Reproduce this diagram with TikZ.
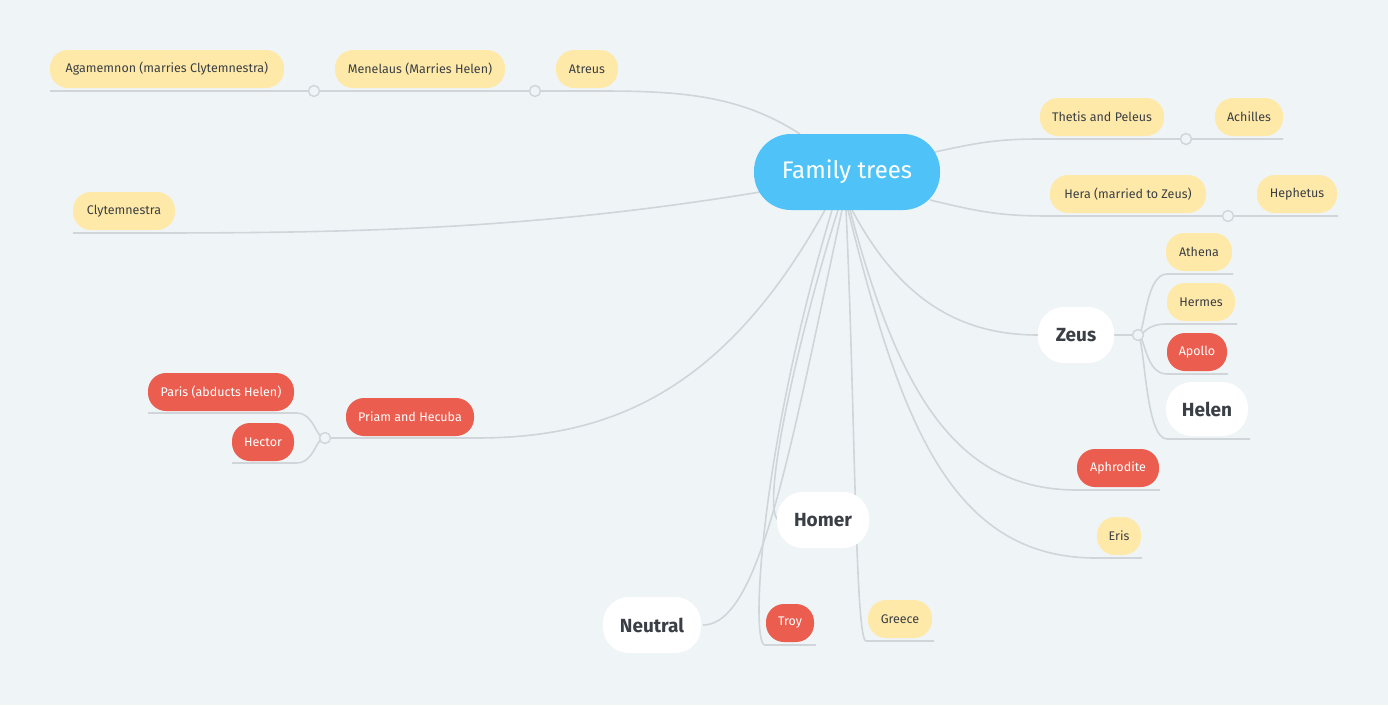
\documentclass[tikz,border=0pt]{standalone}
\usepackage{fontspec}
\setmainfont{Fira Sans}
\begin{document}
\begin{tikzpicture}[x=1pt,y=-1pt,
  ln/.style={draw=lineC,line width=1.6pt},
  yel/.style={fill=yelC,rounded corners=18pt,minimum height=38pt,font=\fontsize{12.5}{15}\selectfont,text=txtC,inner sep=0pt},
  red/.style={fill=redC,rounded corners=18pt,minimum height=38pt,font=\fontsize{12.5}{15}\selectfont,text=white,inner sep=0pt},
  wht/.style={fill=white,rounded corners=26pt,minimum height=56pt,font=\fontsize{19}{21}\selectfont\bfseries,text=txtC,inner sep=0pt},
  knot/.style={circle,draw=lineC,fill=bgC,line width=1.4pt,inner sep=0pt,minimum size=11pt}]
\definecolor{bgC}{HTML}{EFF4F7}
\definecolor{lineC}{HTML}{CFD5D9}
\definecolor{yelC}{HTML}{FFE9A8}
\definecolor{redC}{HTML}{EB5E4F}
\definecolor{txtC}{HTML}{3A3F45}
\definecolor{blueC}{HTML}{4FC3F7}
\fill[bgC] (0,0) rectangle (1388,705);
\useasboundingbox (0,0) rectangle (1388,705);
% connectors
\coordinate (r1) at (800,134);
\draw[ln] (r1) .. controls (740,95) and (680,91) .. (600,91) -- (50,91);
\draw[ln] (760,192) .. controls (500,235) and (300,233) .. (73,233);
\draw[ln] (935,152) .. controls (980,142) and (1000,139) .. (1040,139) -- (1283,139);
\draw[ln] (930,200) .. controls (980,212) and (1000,216) .. (1050,216) -- (1338,216);
\draw[ln] (852,210) .. controls (900,300) and (960,335) .. (1038,335);
\draw[ln] (1138,335) -- (1114,335);
\draw[ln] (1138,335) .. controls (1145,335) and (1145,274) .. (1167,274) -- (1233,274);
\draw[ln] (1138,335) .. controls (1145,335) and (1145,324) .. (1167,324) -- (1237,324);
\draw[ln] (1138,335) .. controls (1145,335) and (1145,374) .. (1167,374) -- (1228,374);
\draw[ln] (1138,335) .. controls (1145,340) and (1145,439) .. (1167,439) -- (1250,439);
\draw[ln] (850,210) .. controls (900,400) and (960,490) .. (1077,490) -- (1160,490);
\draw[ln] (848,210) .. controls (900,420) and (950,558) .. (1096,558) -- (1142,558);
\draw[ln] (838,210) .. controls (800,330) and (760,505) .. (778,520);
\draw[ln] (842,210) .. controls (790,450) and (760,625) .. (703,625);
\draw[ln] (832,210) .. controls (760,450) and (750,645) .. (765,645) -- (816,645);
\draw[ln] (846,210) .. controls (855,400) and (855,641) .. (866,641) -- (934,641);
\draw[ln] (825,210) .. controls (720,400) and (600,438) .. (476,438) -- (325,438);
\draw[ln] (325,438) .. controls (315,438) and (315,413) .. (296,413) -- (148,413);
\draw[ln] (325,438) .. controls (315,438) and (315,463) .. (296,463) -- (232,463);
% knots
\node[knot] (k1) at (314,91) {};
\node[knot] (k2) at (535,91) {};
\node[knot] (k3) at (1186,139) {};
\node[knot] (k4) at (1228,216) {};
\node[knot] (k5) at (1138,335) {};
\node[knot] (k6) at (325,438) {};
% nodes
\node[fill=blueC,rounded corners=37pt,minimum width=186pt,minimum height=76pt,text=white,font=\fontsize{24}{28}\selectfont] (root) at (847,172) {Family trees};
\node[yel,minimum width=62pt] (atreus) at (587,69) {Atreus};
\node[yel,minimum width=170pt] (men) at (420,69) {Menelaus (Marries Helen)};
\node[yel,minimum width=234pt] (aga) at (167,69) {Agamemnon (marries Clytemnestra)};
\node[yel,minimum width=102pt] (cly) at (124,211) {Clytemnestra};
\node[yel,minimum width=124pt] (thet) at (1102,117) {Thetis and Peleus};
\node[yel,minimum width=68pt] (ach) at (1249,117) {Achilles};
\node[yel,minimum width=156pt] (hera) at (1128,194) {Hera (married to Zeus)};
\node[yel,minimum width=80pt] (heph) at (1297,194) {Hephetus};
\node[wht,minimum width=76pt] (zeus) at (1076,335) {Zeus};
\node[yel,minimum width=66pt] (ath) at (1199,252) {Athena};
\node[yel,minimum width=68pt] (her) at (1201,302) {Hermes};
\node[red,minimum width=60pt] (apo) at (1197,352) {Apollo};
\node[wht,minimum width=82pt,minimum height=54pt] (hel) at (1207,409) {Helen};
\node[red,minimum width=82pt] (aph) at (1118,468) {Aphrodite};
\node[yel,minimum width=44pt] (eris) at (1119,536) {Eris};
\node[wht,minimum width=92pt] (homer) at (823,520) {Homer};
\node[wht,minimum width=98pt] (neu) at (652,625) {Neutral};
\node[red,minimum width=48pt] (troy) at (790,623) {Troy};
\node[yel,minimum width=64pt] (gre) at (900,619) {Greece};
\node[red,minimum width=128pt] (pri) at (410,417) {Priam and Hecuba};
\node[red,minimum width=146pt] (par) at (221,392) {Paris (abducts Helen)};
\node[red,minimum width=62pt] (hec) at (263,442) {Hector};
\end{tikzpicture}
\end{document}
